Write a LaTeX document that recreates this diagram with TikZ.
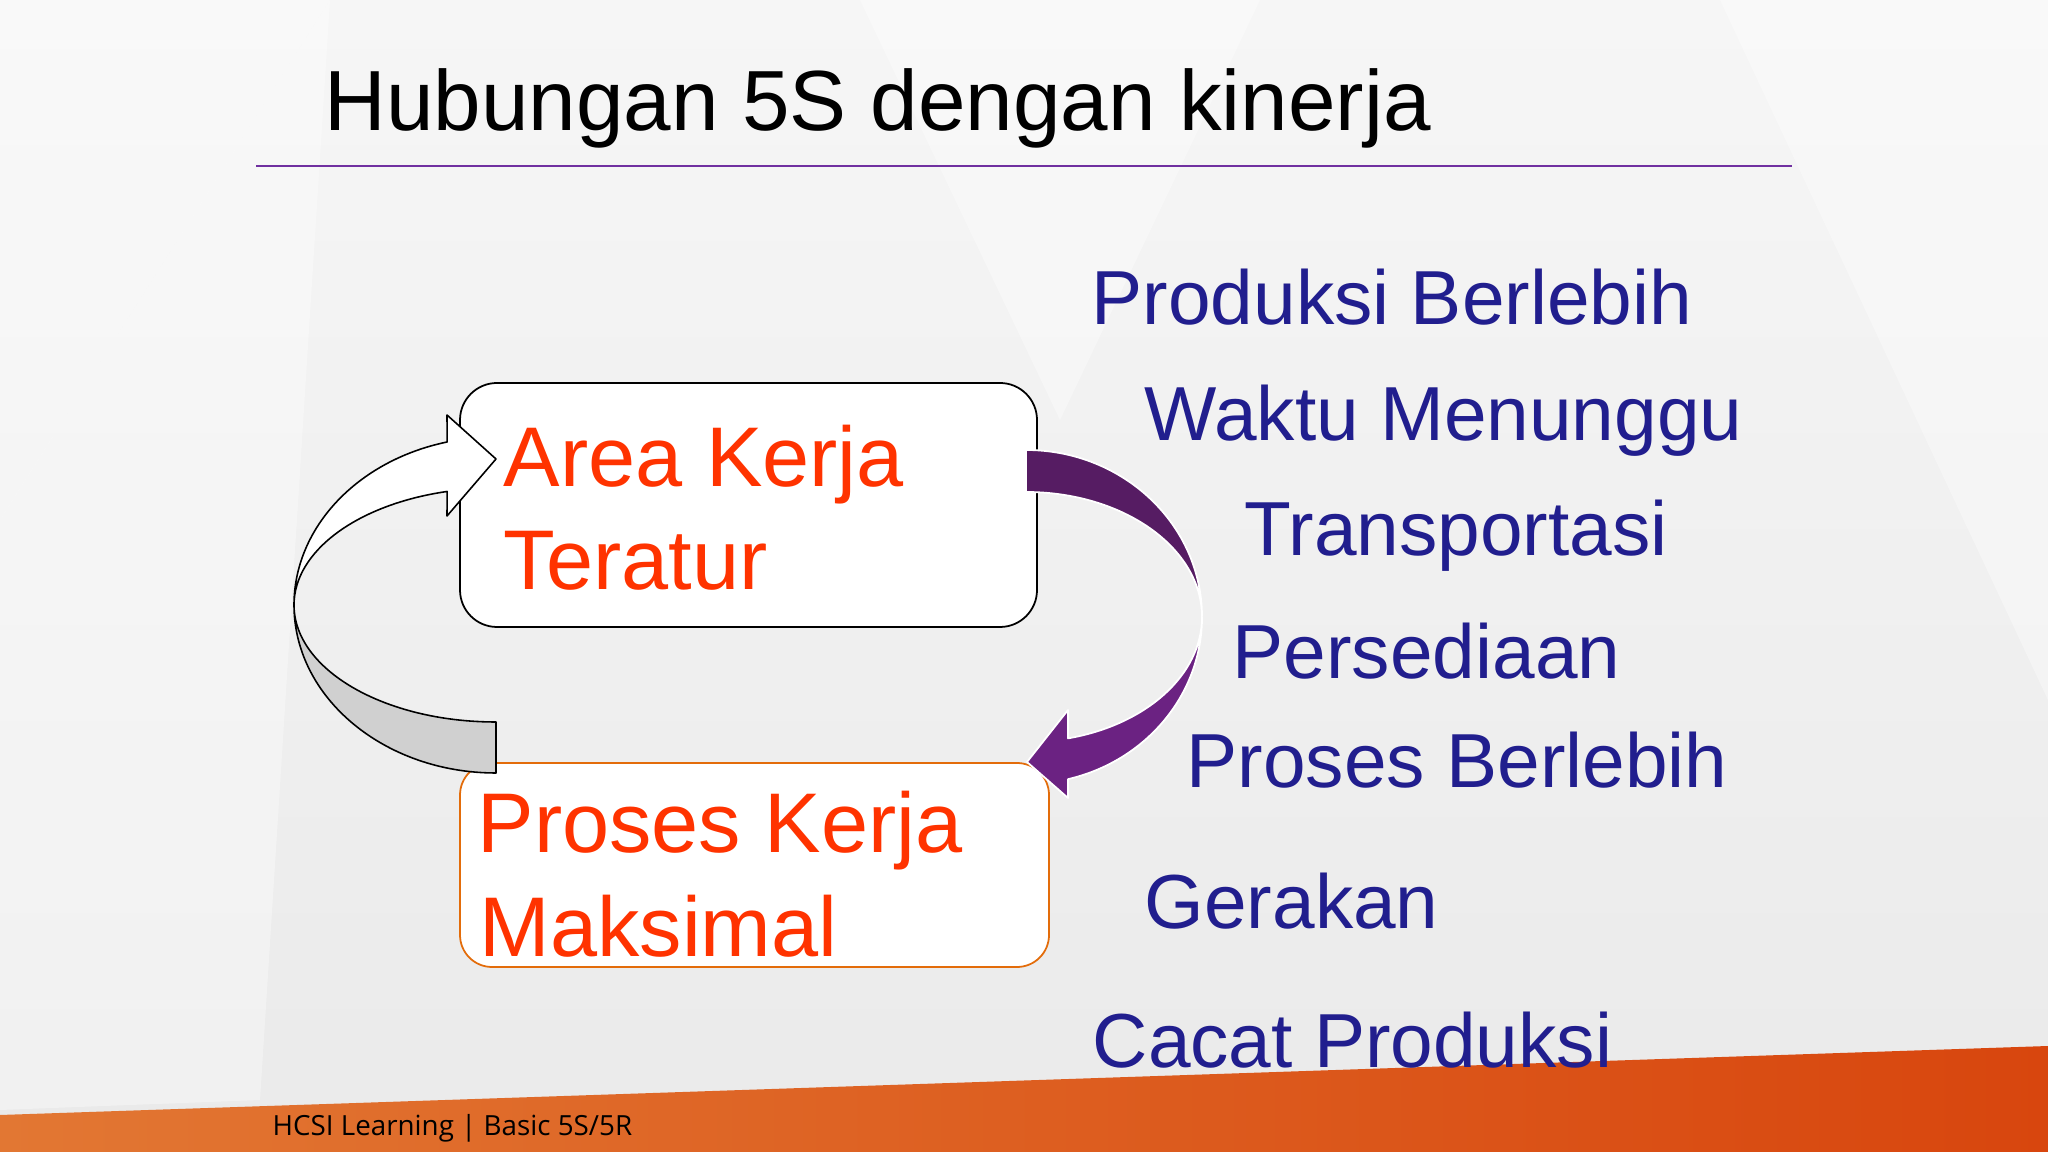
\documentclass[tikz,border=0pt]{standalone}
\usepackage{fontspec}
\setmainfont{Liberation Sans}
\newfontfamily\footfont{Open Sans}
\usepackage{xcolor}
\usepackage{tikz}
\usetikzlibrary{calc}
\definecolor{bgtop}{HTML}{F6F6F6}
\definecolor{bgbot}{HTML}{EAEAEA}
\definecolor{rule}{HTML}{7030A0}
\definecolor{redtxt}{HTML}{FF3300}
\definecolor{bluetxt}{HTML}{211E8E}
\definecolor{boxorange}{HTML}{E36C0A}
\definecolor{purpdark}{HTML}{561C63}
\definecolor{purplight}{HTML}{6B2282}
\definecolor{ribgray}{HTML}{D0D0D0}
\definecolor{bandl}{HTML}{E27733}
\definecolor{bandr}{HTML}{D8460E}
\tikzset{
  card/.style={draw=black, fill=white, line width=0.5pt, rounded corners=3.7mm,
    minimum width=57.7mm, minimum height=24.4mm, inner sep=0pt},
  cardo/.style={card, draw=boxorange, rounded corners=3.2mm,
    minimum width=58.9mm, minimum height=20.4mm},
  big/.style={text=redtxt, font=\fontsize{24.1}{29}\selectfont, anchor=base west, inner sep=0pt},
  waste/.style={text=bluetxt, font=\fontsize{21.8}{26}\selectfont, anchor=base west, inner sep=0pt},
  ribbon/.style={draw=black, line width=0.45pt, line join=round},
  swoosh/.style={draw=white, line width=0.5pt, line join=round},
  facet/.style={fill=white, opacity=0.35}
}
\begin{document}
\begin{tikzpicture}[x=0.1mm, y=-0.1mm]
  \useasboundingbox (0,0) rectangle (2048,1152);
  % background
  \shade[top color=bgtop, bottom color=bgbot] (0,0) rectangle (2048,1152);
  \fill[facet] (0,0) -- (330,0) -- (0,520) -- cycle;
  \fill[facet] (0,520) -- (330,0) -- (260,1100) -- (0,1110) -- cycle;
  \fill[facet] (860,0) -- (1260,0) -- (1060,420) -- cycle;
  \fill[facet] (1720,0) -- (2048,0) -- (2048,700) -- cycle;
  \shade[left color=bandl, right color=bandr] (0,1115) -- (2048,1046) -- (2048,1152) -- (0,1152) -- cycle;

  % title
  \node[anchor=base west, inner sep=0pt, font=\fontsize{24.3}{29}\selectfont] (title) at (324,131) {Hubungan 5S dengan kinerja};
  \coordinate (ruleL) at (256,166);
  \coordinate (ruleR) at (1792,166);
  \draw[rule, line width=0.8pt] (ruleL) -- (ruleR);

  % boxes
  \node[card] (area) at (748.5,505) {};
  \node[cardo] (proses) at (754.5,865) {};
  \node[big] (areaA) at (503,487) {Area Kerja};
  \node[big] (areaB) at (503,590) {Teratur};
  \node[big] (prosA) at (477,853) {Proses Kerja};
  \node[big] (prosB) at (479,957) {Maksimal};

  % left ribbon arrow
  \coordinate (lc) at (496,605);
  \draw[ribbon, fill=ribgray] ($(lc)+(180:202 and 168)$)
    arc[start angle=180, end angle=90, x radius=202, y radius=168]
    -- ($(lc)+(90:202 and 117)$)
    arc[start angle=90, end angle=180, x radius=202, y radius=117] -- cycle;
  \draw[ribbon, fill=white] ($(lc)+(256:202 and 168)$)
    arc[start angle=256, end angle=180, x radius=202, y radius=168]
    arc[start angle=180, end angle=256, x radius=202, y radius=117]
    -- (447,516) -- (496,459) -- (447,415) -- cycle;

  % right purple arrow
  \coordinate (pc) at (1026,617);
  \filldraw[swoosh, fill=purpdark] ($(pc)+(270:176 and 167)$)
    arc[start angle=270, end angle=360, x radius=176, y radius=167]
    arc[start angle=0, end angle=-90, x radius=176, y radius=125] -- cycle;
  \filldraw[swoosh, fill=purplight] ($(pc)+(0:176 and 167)$)
    arc[start angle=0, end angle=76.2, x radius=176, y radius=167]
    -- (1068,798) -- (1027,762) -- (1068,710)
    -- ($(pc)+(76.2:176 and 125)$)
    arc[start angle=76.2, end angle=0, x radius=176, y radius=125] -- cycle;

  % wastes
  \node[waste] (w1) at (1091,325) {Produksi Berlebih};
  \node[waste] (w2) at (1144,441) {Waktu Menunggu};
  \node[waste] (w3) at (1244,556) {Transportasi};
  \node[waste] (w4) at (1232,679) {Persediaan};
  \node[waste] (w5) at (1186,788) {Proses Berlebih};
  \node[waste] (w6) at (1144,929) {Gerakan};
  \node[waste] (w7) at (1092,1068) {Cacat Produksi};

  % footer
  \node[anchor=base west, inner sep=0pt, font=\footfont\fontsize{7.9}{9}\selectfont] (foot) at (272,1136) {HCSI Learning | Basic 5S/5R};
\end{tikzpicture}
\end{document}
